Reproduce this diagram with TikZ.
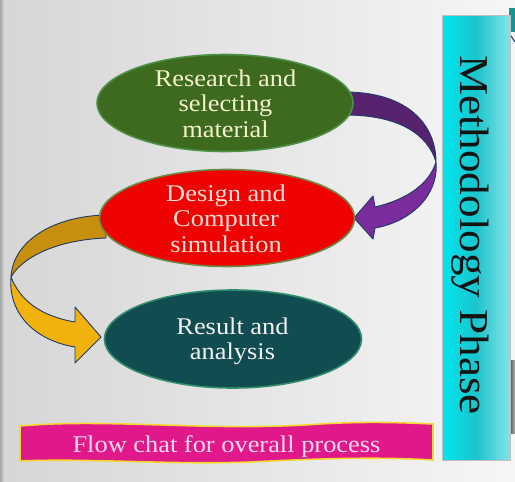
\documentclass[tikz,border=0pt]{standalone}
\usepackage{fontspec}
\setmainfont{Liberation Serif}[FakeStretch=1.1]
\usetikzlibrary{shapes.geometric}
\definecolor{bgl}{HTML}{D6D6D6}
\definecolor{bgr}{HTML}{F6F6F6}
\definecolor{ellgreen}{HTML}{3D6A1E}
\definecolor{ellgreenb}{HTML}{4E9148}
\definecolor{ellred}{HTML}{EE0202}
\definecolor{ellredb}{HTML}{6E8A48}
\definecolor{ellteal}{HTML}{114D50}
\definecolor{elltealb}{HTML}{2F8C6C}
\definecolor{txtyel}{HTML}{F2F2CC}
\definecolor{txtpink}{HTML}{FFDCD4}
\definecolor{txtwhite}{HTML}{F2F2F2}
\definecolor{purpdark}{HTML}{57236E}
\definecolor{purplight}{HTML}{7A2B9C}
\definecolor{golddark}{HTML}{C88F0C}
\definecolor{goldlight}{HTML}{F2B20C}
\definecolor{arrowline}{HTML}{1E3A66}
\definecolor{bannerfill}{HTML}{E0188A}
\definecolor{banneredge}{HTML}{F6D832}
\definecolor{bannertxt}{HTML}{FAD8EE}
\definecolor{cyanl}{HTML}{00E6EE}
\definecolor{cyanm}{HTML}{1CC4CC}
\definecolor{cyanr}{HTML}{86E2E8}
\definecolor{tealstrip}{HTML}{14958F}
\tikzset{
  ell/.style={ellipse, draw, line width=1.6pt, inner sep=0pt},
  elltxt/.style={align=center, inner sep=0pt, font=\fontsize{24}{25.5}\selectfont},
  ribbon/.style={draw=arrowline, line width=0.9pt, line join=round},
}
\begin{document}
\begin{tikzpicture}[x=1pt,y=-1pt]
\useasboundingbox (0,0) rectangle (515,482);
% background
\shade[left color=bgl, right color=bgr] (0,0) rectangle (515,482);
\shade[left color=black!35, right color=bgl] (0,0) rectangle (4,482);
% right-side fragments
\fill[tealstrip] (509,8) rectangle (515,32);
\draw[arrowline, line width=1pt] (509,33) -- (515,42);
\shade[left color=black!65, right color=black!30] (510,360) rectangle (515,433);
% methodology box
\shade[left color=cyanl, right color=cyanr, middle color=cyanm] (442,15) rectangle (510,460);
\draw[black!25, line width=0.6pt] (442,15) rectangle (510,460);
\node[rotate=-90, inner sep=0pt, font=\fontsize{41}{41}\selectfont, text=black!92] (meth) at (470.5,235) {Methodology Phase};
% banner
\path[fill=bannerfill, draw=banneredge, line width=1.6pt]
  (20,426) .. controls (110,418) and (210,432) .. (320,424)
  .. controls (370,421) and (410,423) .. (433,424)
  -- (433,460) .. controls (380,457) and (330,458) .. (250,462)
  .. controls (170,465) and (90,458) .. (20,461) -- cycle;
\node[inner sep=0pt, text=bannertxt, font=\fontsize{24}{24}\selectfont] (ban) at (226.5,446.4) {Flow chat for overall process};
% purple ribbon arrow
\coordinate (ptwist) at (436,162);
\path[fill=purpdark, ribbon]
  (345,92) .. controls (408,92) and (436,125) .. (ptwist)
  .. controls (428,135) and (400,115) .. (345,115) -- cycle;
\path[fill=purplight, ribbon]
  (ptwist) .. controls (439,196) and (410,222) .. (375,228)
  -- (373,239) -- (354,218) -- (373,196) -- (375,207)
  .. controls (405,200) and (429,185) .. (ptwist) -- cycle;
% gold ribbon arrow
\coordinate (gtwist) at (11,277);
\path[fill=golddark, ribbon]
  (106,215) .. controls (55,216) and (13,240) .. (gtwist)
  .. controls (22,258) and (55,240) .. (106,238) -- cycle;
\path[fill=goldlight, ribbon]
  (gtwist) .. controls (20,300) and (40,316) .. (75,322)
  -- (75,307) -- (101,337) -- (75,363) -- (75,347)
  .. controls (33,340) and (8,312) .. (gtwist) -- cycle;
% ellipses
\node[ell, fill=ellgreen, draw=ellgreenb, minimum width=256pt, minimum height=97pt] (e1) at (225,103) {};
\node[ell, fill=ellred, draw=ellredb, minimum width=255pt, minimum height=97pt] (e2) at (227,218) {};
\node[ell, fill=ellteal, draw=elltealb, minimum width=257pt, minimum height=98pt] (e3) at (233,339) {};
\node[elltxt, text=txtyel] (t1) at (225.5,103.5) {Research and\\selecting\\material};
\node[elltxt, text=txtpink] (t2) at (226,218.5) {Design and\\Computer\\simulation};
\node[elltxt, text=txtwhite] (t3) at (232.5,341.5) {Result and\\analysis};
\end{tikzpicture}
\end{document}
